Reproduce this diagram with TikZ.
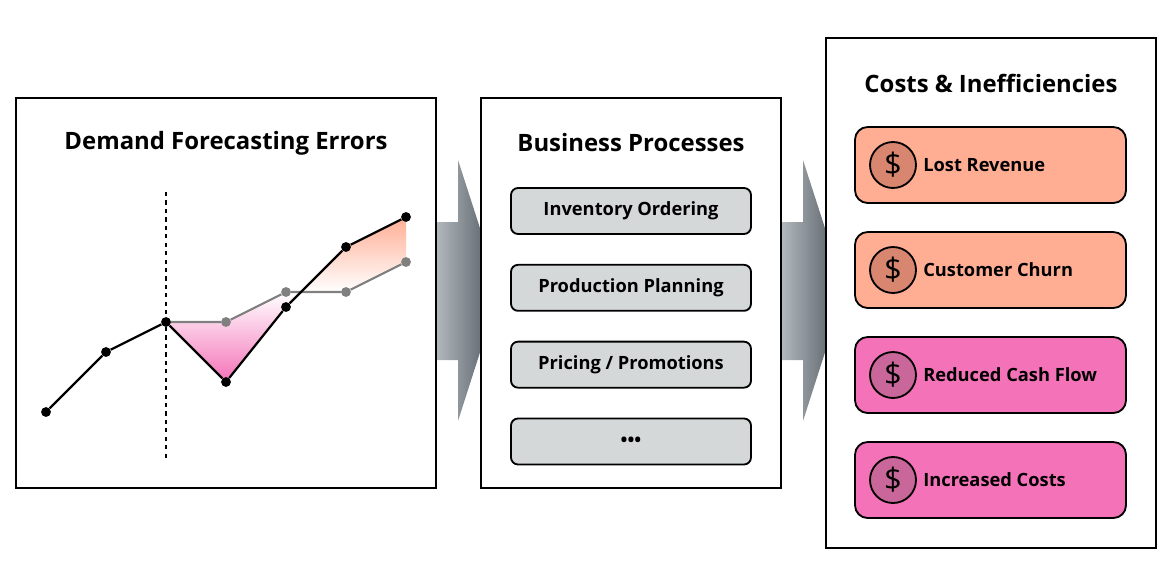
\documentclass[tikz,border=0pt]{standalone}
\usepackage{fontspec}
\setmainfont{Open Sans}
\usetikzlibrary{positioning,shadings}
\definecolor{lossorange}{HTML}{FFAE94}
\definecolor{losspink}{HTML}{F472B8}
\definecolor{coinorange}{HTML}{D8866F}
\definecolor{coinpink}{HTML}{C9679A}
\definecolor{boxgray}{HTML}{D5D8D8}
\definecolor{arrowdark}{HTML}{4A535C}
\definecolor{arrowlight}{HTML}{B3B9BD}
\tikzset{
    panel/.style={draw=black,fill=white,line width=0.8pt},
    title/.style={font=\bfseries\fontsize{17}{20}\selectfont},
    process/.style={draw=black,fill=boxgray,rounded corners=5pt,line width=1.3pt,
        minimum width=240*0.025cm,minimum height=46*0.025cm,font=\bfseries\fontsize{13}{15}\selectfont},
    cost/.style={draw=black,rounded corners=9pt,line width=1.3pt,
        minimum width=271*0.025cm,minimum height=76*0.025cm},
    coin/.style={circle,draw=black,line width=1.3pt,minimum size=46*0.025cm,inner sep=0pt,
        font=\fontsize{22}{24}\selectfont},
    costlabel/.style={font=\bfseries\fontsize{13}{15}\selectfont,anchor=west},
    dot/.style={circle,fill=#1,inner sep=0pt,minimum size=7pt},
    blockarrow/.style={left color=arrowlight,right color=arrowdark,draw=none}
}
\begin{document}
\begin{tikzpicture}[x=0.025cm,y=-0.025cm]
    \useasboundingbox (0,0) rectangle (1172,587);
    % block arrows
    \shade[blockarrow] (436,222) -- (458,222) -- (458,160) -- (500,290) -- (458,421) -- (458,360) -- (436,360) -- cycle;
    \shade[blockarrow] (781,222) -- (803,222) -- (803,160) -- (845,290) -- (803,421) -- (803,360) -- (781,360) -- cycle;
    % panels
    \draw[panel] (16,98) rectangle (436,488);
    \draw[panel] (481,98) rectangle (781,488);
    \draw[panel] (826,38) rectangle (1156,548);
    \node[title] (tforecast) at (226,143) {Demand Forecasting Errors};
    \node[title] (tprocess) at (631,143) {Business Processes};
    \node[title] (tcost) at (991,83) {Costs \& Inefficiencies};
    % chart
    \shade[top color=white,bottom color=losspink] (166,322) -- (226,322) -- (286,292) -- (301,292) -- (286,307) -- (226,382) -- cycle;
    \shade[top color=lossorange,bottom color=white] (301,292) -- (346,292) -- (406,262) -- (406,217) -- (346,247) -- cycle;
    \coordinate (dtop) at (166,192);
    \coordinate (dbot) at (166,458);
    \draw[dashed,line width=0.8pt] (dtop) -- (dbot);
    \foreach \n/\x/\y in {g1/226/322,g2/286/292,g3/346/292,g4/406/262}
        \node[dot=gray] (\n) at (\x,\y) {};
    \foreach \n/\x/\y in {a1/46/412,a2/106/352,a3/166/322,a4/226/382,a5/286/307,a6/346/247,a7/406/217}
        \node[dot=black] (\n) at (\x,\y) {};
    \draw[gray,line width=1.5pt] (a3) -- (g1) -- (g2) -- (g3) -- (g4);
    \draw[line width=1.6pt] (a1) -- (a2) -- (a3) -- (a4) -- (a5) -- (a6) -- (a7);
    % processes
    \node[process] (inventory) at (631,211) {Inventory Ordering};
    \node[process,below=29*0.025cm of inventory] (production) {Production Planning};
    \node[process,below=29*0.025cm of production] (pricing) {Pricing / Promotions};
    \node[process,below=29*0.025cm of pricing] (more) {\textbullet\textbullet\textbullet};
    % costs
    \foreach \n/\y/\c/\k/\t in {revenue/165/lossorange/coinorange/Lost Revenue,
                               churn/270/lossorange/coinorange/Customer Churn,
                               cash/375/losspink/coinpink/Reduced Cash Flow,
                               costs/480/losspink/coinpink/Increased Costs}{
        \node[cost,fill=\c] (\n) at (990.5,\y) {};
        \node[coin,fill=\k] (\n coin) at (893,\y) {\$};
        \node[costlabel,right=1pt of \n coin] (\n label) {\t};
    }
\end{tikzpicture}
\end{document}
